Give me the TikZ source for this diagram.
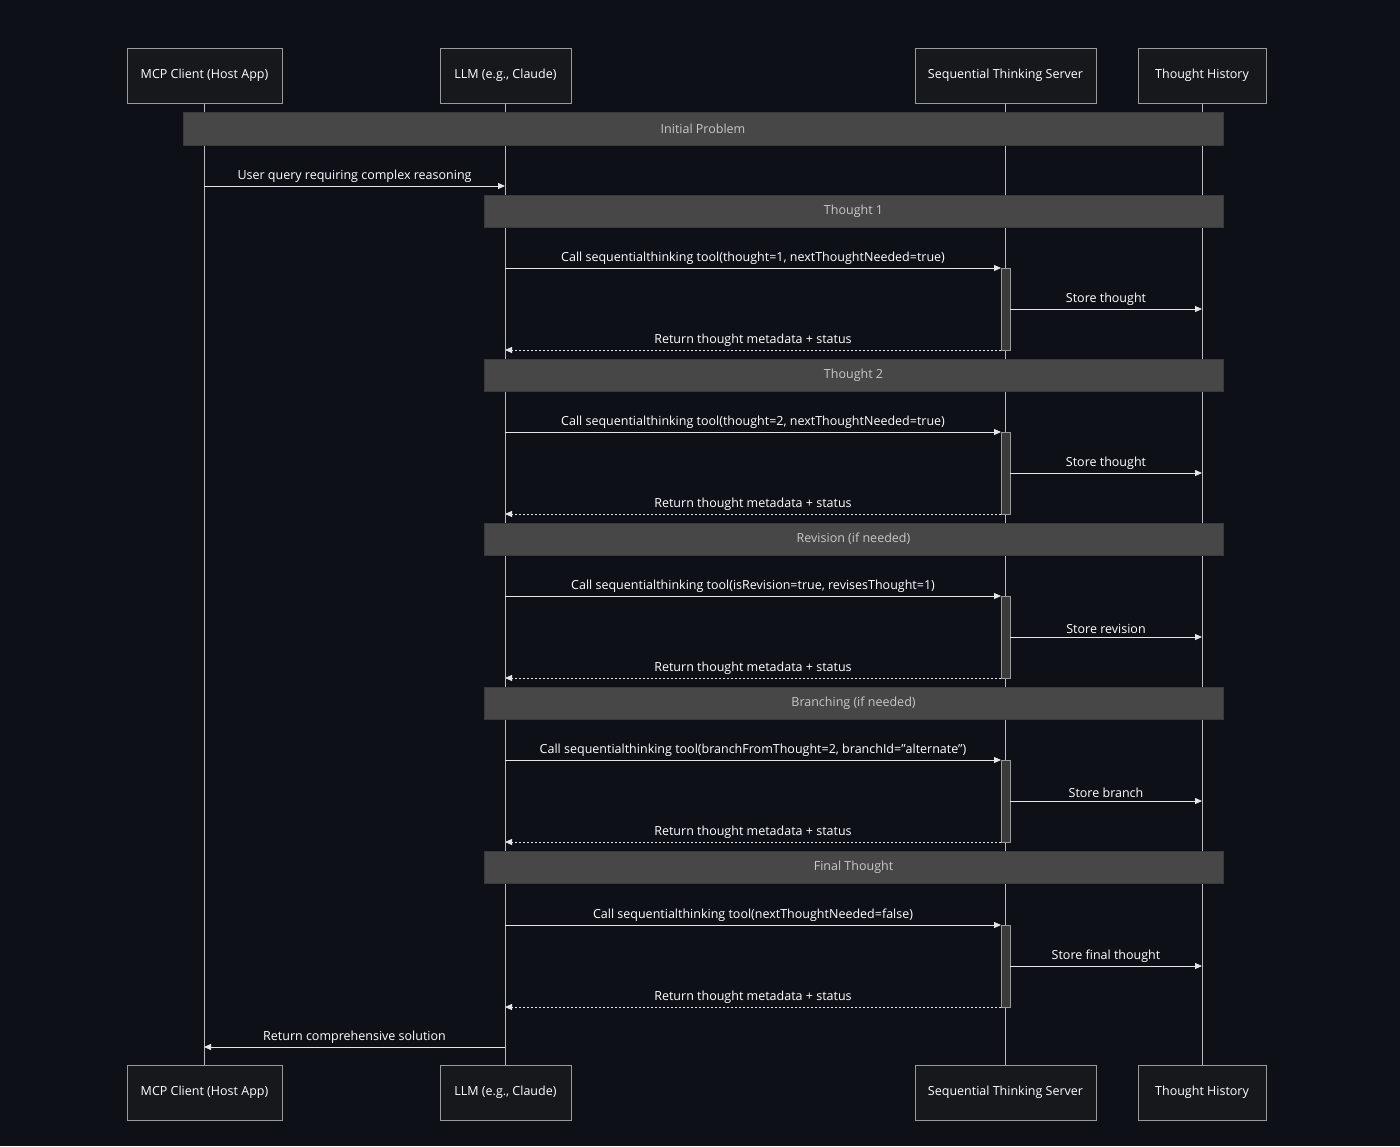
\documentclass[tikz,border=0pt]{standalone}
\usepackage{fontspec}
\setmainfont{Open Sans}
\usetikzlibrary{arrows.meta}
\definecolor{bg}{HTML}{0D1117}
\definecolor{boxfill}{HTML}{16181C}
\definecolor{boxline}{HTML}{9A9A9A}
\definecolor{notefill}{HTML}{474747}
\definecolor{notetext}{HTML}{C8C8C8}
\definecolor{life}{HTML}{BBBBBB}
\definecolor{actfill}{HTML}{3A3A3A}
\tikzset{
  x=1pt,y=-1pt,
  actor/.style={draw=boxline,fill=boxfill,text=white,font=\fontsize{12.5}{14}\selectfont,inner sep=0pt},
  notebox/.style={fill=notefill,draw=notefill!80!black,text=notetext,font=\fontsize{12.5}{14}\selectfont},
  msg/.style={draw=white!90!black,line width=0.8pt,-{Triangle[length=7pt,width=6pt]}},
  ret/.style={msg,dash pattern=on 2pt off 2pt},
  lbl/.style={text=white,font=\fontsize{12.5}{14}\selectfont,anchor=south,inner sep=3pt},
  lifeline/.style={draw=life,line width=0.8pt},
  act/.style={draw=boxline,fill=actfill}
}
\begin{document}
\begin{tikzpicture}
\fill[bg] (0,0) rectangle (1400,1146);
\useasboundingbox (0,0) rectangle (1400,1146);
% lifelines
\foreach \x/\n in {204/a,505/b,1005/c,1202/d}{
  \coordinate (\n top) at (\x,103);
  \coordinate (\n bot) at (\x,1065);
  \draw[lifeline] (\n top) -- (\n bot);
}
% actors
\foreach \n/\xa/\xb/\t in {a/127/282/{MCP Client (Host App)},b/440/571/{LLM (e.g., Claude)},c/915/1096/{Sequential Thinking Server},d/1138/1266/{Thought History}}{
  \draw[actor] (\xa,48) rectangle (\xb,103);
  \node[actor,draw=none,fill=none] (\n T) at ({(\xa+\xb)/2},75.5) {\t};
  \draw[actor] (\xa,1065) rectangle (\xb,1120);
  \node[actor,draw=none,fill=none] (\n B) at ({(\xa+\xb)/2},1092.5) {\t};
}
% notes
\draw[notebox] (183,112) rectangle (1223,145);
\node[notetext,font=\fontsize{12.5}{14}\selectfont] (n0) at (703,128.5) {Initial Problem};
\foreach \y/\t [count=\i] in {195/Thought 1,359/Thought 2,523/Revision (if needed),687/Branching (if needed),851/Final Thought}{
  \draw[notebox] (484,\y) rectangle (1223,\y+32);
  \node[notetext,font=\fontsize{12.5}{14}\selectfont] (n\i) at (853.5,\y+16) {\t};
}
% first message
\coordinate (m0a) at (204,186); \coordinate (m0b) at (505,186);
\draw[msg] (m0a) -- (m0b) node[lbl,midway] {User query requiring complex reasoning};
% blocks
\foreach \y/\call/\store [count=\i] in {
  268/{Call sequentialthinking tool(thought=1, nextThoughtNeeded=true)}/{Store thought},
  432/{Call sequentialthinking tool(thought=2, nextThoughtNeeded=true)}/{Store thought},
  596/{Call sequentialthinking tool(isRevision=true, revisesThought=1)}/{Store revision},
  760/{Call sequentialthinking tool(branchFromThought=2, branchId="alternate")}/{Store branch},
  925/{Call sequentialthinking tool(nextThoughtNeeded=false)}/{Store final thought}}{
  \draw[act] (1001,\y) rectangle (1010,\y+82);
  \coordinate (c\i a) at (505,\y); \coordinate (c\i b) at (1001,\y);
  \coordinate (s\i a) at (1010,\y+41); \coordinate (s\i b) at (1202,\y+41);
  \coordinate (r\i a) at (1001,\y+82); \coordinate (r\i b) at (505,\y+82);
  \draw[msg] (c\i a) -- (c\i b) node[lbl,midway] {\call};
  \draw[msg] (s\i a) -- (s\i b) node[lbl,midway] {\store};
  \draw[ret] (r\i a) -- (r\i b) node[lbl,midway] {Return thought metadata + status};
}
\coordinate (fa) at (505,1047); \coordinate (fb) at (204,1047);
\draw[msg] (fa) -- (fb) node[lbl,midway] {Return comprehensive solution};
\end{tikzpicture}
\end{document}
